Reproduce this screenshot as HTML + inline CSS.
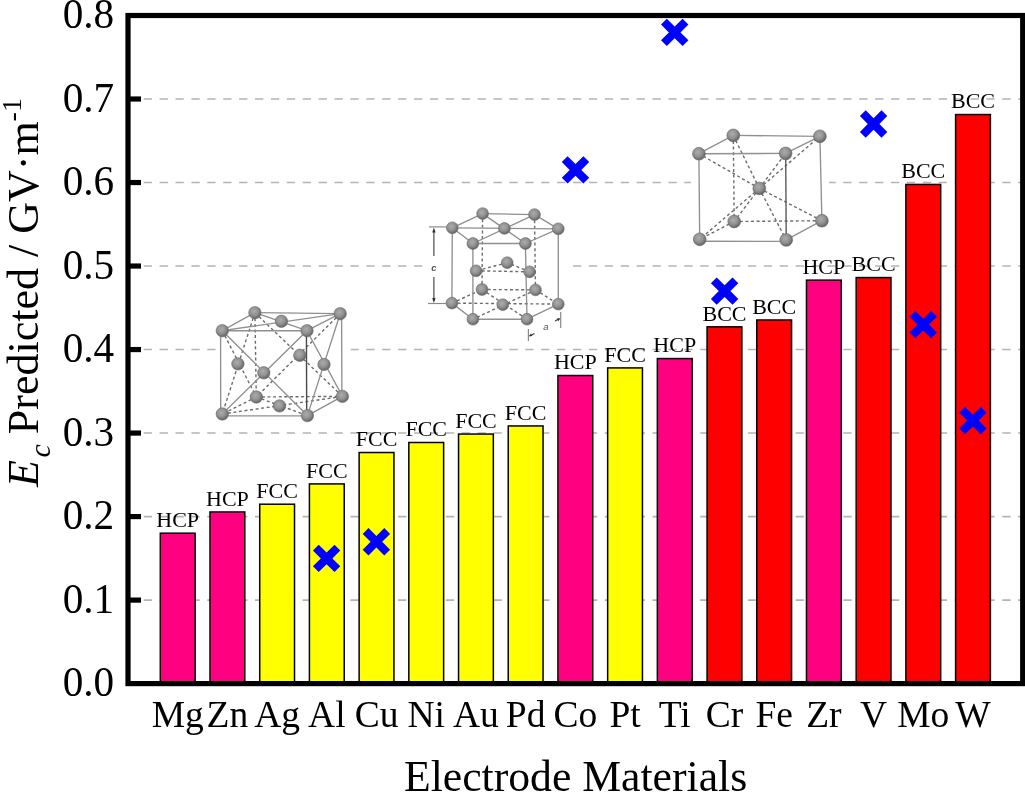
<!DOCTYPE html>
<html lang="en"><head><meta charset="utf-8"><title>Ec Predicted vs Electrode Materials</title>
<style>
html,body{margin:0;padding:0;background:#fff;}
body{width:1025px;height:792px;overflow:hidden;}
svg{display:block;}
text{font-family:"Liberation Serif","Times New Roman",Times,serif;fill:#000;}
.g{stroke:#b4b4b4;stroke-width:1.6;stroke-dasharray:8.3 7.6;fill:none;}
.b{stroke:#000;stroke-width:1.50;}
.l{font-size:22.0px;text-anchor:middle;}
.yt{font-size:41.2px;text-anchor:end;}
.xt{font-size:37.5px;text-anchor:middle;}
.s{stroke:#909090;stroke-width:1.35;fill:none;stroke-linecap:round;}
.d{stroke:#6c6c6c;stroke-width:1.4;fill:none;stroke-dasharray:3 2.6;}
.m{fill:#0000ff;}
</style></head><body>
<svg width="1025" height="792" viewBox="0 0 1025 792">
<defs>
<radialGradient id="ball" cx="0.42" cy="0.38" r="0.62"><stop offset="0" stop-color="#acacac"/><stop offset="0.55" stop-color="#929292"/><stop offset="0.9" stop-color="#6e6e6e"/><stop offset="1" stop-color="#626262"/></radialGradient>
<polygon id="x" class="m" points="-7.90,-13.70 0.00,-5.80 7.90,-13.70 13.70,-7.90 5.80,0.00 13.70,7.90 7.90,13.70 0.00,5.80 -7.90,13.70 -13.70,7.90 -5.80,0.00 -13.70,-7.90"/>
<filter id="soft" x="-5%" y="-5%" width="110%" height="110%"><feGaussianBlur stdDeviation="0.5"/></filter>
</defs>
<rect x="0" y="0" width="1025" height="792" fill="#fff"/>
<g id="grid">
<line class="g" x1="143.7" y1="600.09" x2="1020.7" y2="600.09"/>
<line class="g" x1="143.7" y1="516.58" x2="1020.7" y2="516.58"/>
<line class="g" x1="143.7" y1="433.06" x2="1020.7" y2="433.06"/>
<line class="g" x1="143.7" y1="349.55" x2="1020.7" y2="349.55"/>
<line class="g" x1="143.7" y1="266.04" x2="1020.7" y2="266.04"/>
<line class="g" x1="143.7" y1="182.53" x2="1020.7" y2="182.53"/>
<line class="g" x1="143.7" y1="99.01" x2="1020.7" y2="99.01"/>
</g>
<g id="bars">
<rect class="b" x="160.31" y="533.19" width="34.80" height="150.41" fill="#ff0080"/>
<rect class="b" x="210.01" y="511.98" width="34.80" height="171.62" fill="#ff0080"/>
<rect class="b" x="259.72" y="504.22" width="34.80" height="179.38" fill="#ffff00"/>
<rect class="b" x="309.42" y="483.92" width="34.80" height="199.68" fill="#ffff00"/>
<rect class="b" x="359.13" y="452.52" width="34.80" height="231.08" fill="#ffff00"/>
<rect class="b" x="408.83" y="442.50" width="34.80" height="241.10" fill="#ffff00"/>
<rect class="b" x="458.54" y="434.06" width="34.80" height="249.54" fill="#ffff00"/>
<rect class="b" x="508.24" y="425.96" width="34.80" height="257.64" fill="#ffff00"/>
<rect class="b" x="557.95" y="375.52" width="34.80" height="308.08" fill="#ff0080"/>
<rect class="b" x="607.66" y="367.92" width="34.80" height="315.68" fill="#ffff00"/>
<rect class="b" x="657.36" y="358.57" width="34.80" height="325.03" fill="#ff0080"/>
<rect class="b" x="707.07" y="326.83" width="34.80" height="356.77" fill="#ff0000"/>
<rect class="b" x="756.77" y="319.99" width="34.80" height="363.61" fill="#ff0000"/>
<rect class="b" x="806.48" y="280.15" width="34.80" height="403.45" fill="#ff0080"/>
<rect class="b" x="856.18" y="277.56" width="34.80" height="406.04" fill="#ff0000"/>
<rect class="b" x="905.89" y="184.45" width="34.80" height="499.15" fill="#ff0000"/>
<rect class="b" x="955.59" y="114.55" width="34.80" height="569.05" fill="#ff0000"/>
</g>
<g id="fcc">
<rect x="216" y="300" width="134.5" height="127" fill="#fff"/>
<g filter="url(#soft)">
<line class="d" x1="254.9" y1="312.7" x2="256.3" y2="397.0"/>
<line class="d" x1="256.3" y1="397.0" x2="342.4" y2="396.4"/>
<line class="d" x1="256.3" y1="397.0" x2="222.3" y2="414.0"/>
<line class="d" x1="222.3" y1="330.7" x2="256.3" y2="397.0"/>
<line class="d" x1="254.9" y1="312.7" x2="222.3" y2="414.0"/>
<line class="d" x1="254.9" y1="312.7" x2="342.4" y2="396.4"/>
<line class="d" x1="340.2" y1="313.7" x2="256.3" y2="397.0"/>
<line class="d" x1="222.3" y1="414.0" x2="342.4" y2="396.4"/>
<line class="d" x1="256.3" y1="397.0" x2="307.4" y2="415.6"/>
<line class="s" x1="222.3" y1="330.7" x2="307.0" y2="330.7"/>
<line class="s" x1="222.3" y1="330.7" x2="254.9" y2="312.7"/>
<line class="s" x1="254.9" y1="312.7" x2="340.2" y2="313.7"/>
<line class="s" x1="340.2" y1="313.7" x2="307.0" y2="330.7"/>
<line class="s" x1="342.4" y1="396.4" x2="307.4" y2="415.6"/>
<line class="s" x1="222.3" y1="330.7" x2="307.4" y2="415.6"/>
<line class="s" x1="307.0" y1="330.7" x2="222.3" y2="414.0"/>
<line class="s" x1="222.3" y1="330.7" x2="340.2" y2="313.7"/>
<line class="s" x1="254.9" y1="312.7" x2="307.0" y2="330.7"/>
<line class="s" x1="307.0" y1="330.7" x2="342.4" y2="396.4"/>
<line class="s" x1="340.2" y1="313.7" x2="307.4" y2="415.6"/>
<line class="s" x1="220.6" y1="332.0" x2="220.7" y2="413.0"/>
<line class="s" x1="222.0" y1="415.8" x2="307.0" y2="415.9"/>
<line class="s" x1="341.6" y1="316.0" x2="341.9" y2="395.0"/>
<line x1="306.4" y1="332" x2="306.7" y2="414" stroke="#484848" stroke-width="1.4" fill="none"/>
<circle cx="254.9" cy="312.7" r="6.2" fill="url(#ball)" stroke="#6a6a6a" stroke-width="0.6"/>
<circle cx="340.2" cy="313.7" r="6.2" fill="url(#ball)" stroke="#6a6a6a" stroke-width="0.6"/>
<circle cx="281.4" cy="321.3" r="6.2" fill="url(#ball)" stroke="#6a6a6a" stroke-width="0.6"/>
<circle cx="299.8" cy="355.3" r="6.2" fill="url(#ball)" stroke="#6a6a6a" stroke-width="0.6"/>
<circle cx="237.9" cy="363.9" r="6.2" fill="url(#ball)" stroke="#6a6a6a" stroke-width="0.6"/>
<circle cx="256.3" cy="397.0" r="6.2" fill="url(#ball)" stroke="#6a6a6a" stroke-width="0.6"/>
<circle cx="342.4" cy="396.4" r="6.2" fill="url(#ball)" stroke="#6a6a6a" stroke-width="0.6"/>
<circle cx="279.5" cy="405.9" r="6.2" fill="url(#ball)" stroke="#6a6a6a" stroke-width="0.6"/>
<circle cx="324.0" cy="364.4" r="6.2" fill="url(#ball)" stroke="#6a6a6a" stroke-width="0.6"/>
<circle cx="263.8" cy="372.8" r="6.2" fill="url(#ball)" stroke="#6a6a6a" stroke-width="0.6"/>
<circle cx="222.3" cy="330.7" r="6.2" fill="url(#ball)" stroke="#6a6a6a" stroke-width="0.6"/>
<circle cx="307.0" cy="330.7" r="6.2" fill="url(#ball)" stroke="#6a6a6a" stroke-width="0.6"/>
<circle cx="222.3" cy="414.0" r="6.2" fill="url(#ball)" stroke="#6a6a6a" stroke-width="0.6"/>
<circle cx="307.4" cy="415.6" r="6.2" fill="url(#ball)" stroke="#6a6a6a" stroke-width="0.6"/>
</g></g>
<g id="hcp">
<rect x="424" y="200" width="148.5" height="143" fill="#fff"/>
<g filter="url(#soft)">
<line class="d" x1="482.6" y1="213.6" x2="482.0" y2="289.5"/>
<line class="d" x1="534.5" y1="214.6" x2="535.5" y2="289.9"/>
<line class="d" x1="451.9" y1="303.1" x2="482.0" y2="289.5"/>
<line class="d" x1="482.0" y1="289.5" x2="535.5" y2="289.9"/>
<line class="d" x1="535.5" y1="289.9" x2="558.3" y2="304.1"/>
<line class="d" x1="451.9" y1="303.1" x2="558.3" y2="304.1"/>
<line class="d" x1="482.0" y1="289.5" x2="527.0" y2="319.2"/>
<line class="d" x1="535.5" y1="289.9" x2="472.9" y2="319.2"/>
<line class="d" x1="507.2" y1="262.7" x2="476.1" y2="270.8"/>
<line class="d" x1="476.1" y1="270.8" x2="529.6" y2="271.8"/>
<line class="d" x1="529.6" y1="271.8" x2="507.2" y2="262.7"/>
<line class="s" x1="452.3" y1="227.8" x2="482.6" y2="213.6"/>
<line class="s" x1="482.6" y1="213.6" x2="534.5" y2="214.6"/>
<line class="s" x1="534.5" y1="214.6" x2="558.3" y2="228.8"/>
<line class="s" x1="558.3" y1="228.8" x2="525.4" y2="243.5"/>
<line class="s" x1="525.4" y1="243.5" x2="472.9" y2="243.5"/>
<line class="s" x1="472.9" y1="243.5" x2="452.3" y2="227.8"/>
<line class="s" x1="452.3" y1="227.8" x2="558.3" y2="228.8"/>
<line class="s" x1="482.6" y1="213.6" x2="525.4" y2="243.5"/>
<line class="s" x1="534.5" y1="214.6" x2="472.9" y2="243.5"/>
<line class="s" x1="452.3" y1="227.8" x2="451.9" y2="303.1"/>
<line class="s" x1="472.9" y1="243.5" x2="472.9" y2="319.2"/>
<line class="s" x1="525.4" y1="243.5" x2="527.0" y2="319.2"/>
<line class="s" x1="558.3" y1="228.8" x2="558.3" y2="304.1"/>
<line class="s" x1="451.9" y1="303.1" x2="472.9" y2="319.2"/>
<line class="s" x1="472.9" y1="319.2" x2="527.0" y2="319.2"/>
<line class="s" x1="527.0" y1="319.2" x2="558.3" y2="304.1"/>
<circle cx="482.6" cy="213.6" r="5.9" fill="url(#ball)" stroke="#6a6a6a" stroke-width="0.6"/>
<circle cx="534.5" cy="214.6" r="5.9" fill="url(#ball)" stroke="#6a6a6a" stroke-width="0.6"/>
<circle cx="504.4" cy="228.4" r="5.9" fill="url(#ball)" stroke="#6a6a6a" stroke-width="0.6"/>
<circle cx="452.3" cy="227.8" r="5.9" fill="url(#ball)" stroke="#6a6a6a" stroke-width="0.6"/>
<circle cx="558.3" cy="228.8" r="5.9" fill="url(#ball)" stroke="#6a6a6a" stroke-width="0.6"/>
<circle cx="482.0" cy="289.5" r="5.9" fill="url(#ball)" stroke="#6a6a6a" stroke-width="0.6"/>
<circle cx="535.5" cy="289.9" r="5.9" fill="url(#ball)" stroke="#6a6a6a" stroke-width="0.6"/>
<circle cx="507.2" cy="262.7" r="5.9" fill="url(#ball)" stroke="#6a6a6a" stroke-width="0.6"/>
<circle cx="476.1" cy="270.8" r="5.9" fill="url(#ball)" stroke="#6a6a6a" stroke-width="0.6"/>
<circle cx="529.6" cy="271.8" r="5.9" fill="url(#ball)" stroke="#6a6a6a" stroke-width="0.6"/>
<circle cx="502.8" cy="304.7" r="5.9" fill="url(#ball)" stroke="#6a6a6a" stroke-width="0.6"/>
<circle cx="451.9" cy="303.1" r="5.9" fill="url(#ball)" stroke="#6a6a6a" stroke-width="0.6"/>
<circle cx="558.3" cy="304.1" r="5.9" fill="url(#ball)" stroke="#6a6a6a" stroke-width="0.6"/>
<circle cx="472.9" cy="243.5" r="5.9" fill="url(#ball)" stroke="#6a6a6a" stroke-width="0.6"/>
<circle cx="525.4" cy="243.5" r="5.9" fill="url(#ball)" stroke="#6a6a6a" stroke-width="0.6"/>
<circle cx="472.9" cy="319.2" r="5.9" fill="url(#ball)" stroke="#6a6a6a" stroke-width="0.6"/>
<circle cx="527.0" cy="319.2" r="5.9" fill="url(#ball)" stroke="#6a6a6a" stroke-width="0.6"/>
<g stroke="#8a8a8a" stroke-width="1.2" fill="none">
<line x1="429" y1="226.9" x2="447" y2="226.9"/><line x1="428" y1="303.5" x2="446" y2="303.5"/>
<line x1="528.4" y1="329" x2="528.4" y2="341"/><line x1="560.7" y1="312" x2="560.7" y2="328"/>
</g>
<g stroke="#3c3c3c" stroke-width="1.1" fill="none">
<line x1="433.9" y1="230" x2="433.9" y2="256"/><line x1="433.9" y1="277" x2="433.9" y2="301"/>
<line x1="529.5" y1="336" x2="534.5" y2="333.6"/><line x1="559.6" y1="318.6" x2="555" y2="321"/>
</g>
<path d="M433.9 227.6l-1.7 5h3.4z M433.9 303l-1.7-5h3.4z M529 336.2l3.4-0.2l-1.4-2.6z M560.2 318.4l-3.4 0.2l1.4 2.6z" fill="#333"/>
<text x="433.9" y="271.4" style="font-family:'Liberation Sans',Arial,sans-serif;font-size:9.5px;font-style:italic;font-weight:bold;fill:#555;text-anchor:middle">c</text>
<text x="545.8" y="330.2" style="font-family:'Liberation Sans',Arial,sans-serif;font-size:9.5px;font-style:italic;fill:#555;text-anchor:middle">a</text>
</g></g>
<g id="bcc">
<rect x="691" y="122" width="138" height="127" fill="#fff"/>
<g filter="url(#soft)">
<line class="d" x1="733.3" y1="135.4" x2="734.2" y2="221.5"/>
<line class="d" x1="734.2" y1="221.5" x2="821.9" y2="220.7"/>
<line class="d" x1="734.2" y1="221.5" x2="699.7" y2="239.3"/>
<line class="d" x1="759.3" y1="188.4" x2="698.9" y2="153.7"/>
<line class="d" x1="759.3" y1="188.4" x2="733.3" y2="135.4"/>
<line class="d" x1="759.3" y1="188.4" x2="785.6" y2="153.4"/>
<line class="d" x1="759.3" y1="188.4" x2="819.9" y2="136.3"/>
<line class="d" x1="759.3" y1="188.4" x2="734.2" y2="221.5"/>
<line class="d" x1="759.3" y1="188.4" x2="699.7" y2="239.3"/>
<line class="d" x1="759.3" y1="188.4" x2="786.2" y2="239.9"/>
<line class="d" x1="759.3" y1="188.4" x2="821.9" y2="220.7"/>
<line class="s" x1="698.9" y1="153.7" x2="785.6" y2="153.4"/>
<line class="s" x1="699.7" y1="239.3" x2="698.9" y2="153.7"/>
<line class="s" x1="698.9" y1="153.7" x2="733.3" y2="135.4"/>
<line class="s" x1="733.3" y1="135.4" x2="819.9" y2="136.3"/>
<line class="s" x1="819.9" y1="136.3" x2="785.6" y2="153.4"/>
<line class="s" x1="819.9" y1="136.3" x2="821.9" y2="220.7"/>
<line class="s" x1="821.9" y1="220.7" x2="786.2" y2="239.9"/>
<line class="s" x1="700.0" y1="241.2" x2="786.0" y2="241.4"/>
<line x1="785.7" y1="155" x2="786.2" y2="238" stroke="#5a5a5a" stroke-width="1.4" fill="none"/>
<circle cx="733.3" cy="135.4" r="6.4" fill="url(#ball)" stroke="#6a6a6a" stroke-width="0.6"/>
<circle cx="819.9" cy="136.3" r="6.4" fill="url(#ball)" stroke="#6a6a6a" stroke-width="0.6"/>
<circle cx="734.2" cy="221.5" r="6.4" fill="url(#ball)" stroke="#6a6a6a" stroke-width="0.6"/>
<circle cx="821.9" cy="220.7" r="6.4" fill="url(#ball)" stroke="#6a6a6a" stroke-width="0.6"/>
<circle cx="759.3" cy="188.4" r="6.4" fill="url(#ball)" stroke="#6a6a6a" stroke-width="0.6"/>
<circle cx="698.9" cy="153.7" r="6.4" fill="url(#ball)" stroke="#6a6a6a" stroke-width="0.6"/>
<circle cx="785.6" cy="153.4" r="6.4" fill="url(#ball)" stroke="#6a6a6a" stroke-width="0.6"/>
<circle cx="699.7" cy="239.3" r="6.4" fill="url(#ball)" stroke="#6a6a6a" stroke-width="0.6"/>
<circle cx="786.2" cy="239.9" r="6.4" fill="url(#ball)" stroke="#6a6a6a" stroke-width="0.6"/>
</g></g>
<g id="markers">
<use href="#x" x="326.60" y="558.40"/>
<use href="#x" x="376.40" y="541.80"/>
<use href="#x" x="575.50" y="169.90"/>
<use href="#x" x="674.70" y="32.40"/>
<use href="#x" x="724.60" y="291.10"/>
<use href="#x" x="873.60" y="124.00"/>
<use href="#x" x="923.25" y="324.60"/>
<use href="#x" x="972.90" y="420.60"/>
</g>
<g id="labels">
<text class="l" x="177.71" y="527.04">HCP</text>
<text class="l" x="227.41" y="505.83">HCP</text>
<text class="l" x="277.12" y="498.07">FCC</text>
<text class="l" x="326.82" y="477.77">FCC</text>
<text class="l" x="376.53" y="446.37">FCC</text>
<text class="l" x="426.23" y="436.35">FCC</text>
<text class="l" x="475.94" y="427.91">FCC</text>
<text class="l" x="525.64" y="419.81">FCC</text>
<text class="l" x="575.35" y="369.37">HCP</text>
<text class="l" x="625.06" y="361.77">FCC</text>
<text class="l" x="674.76" y="352.42">HCP</text>
<text class="l" x="724.47" y="320.68">BCC</text>
<text class="l" x="774.17" y="313.84">BCC</text>
<text class="l" x="823.88" y="274.00">HCP</text>
<text class="l" x="873.58" y="271.41">BCC</text>
<text class="l" x="923.29" y="178.30">BCC</text>
<text class="l" x="972.99" y="108.40">BCC</text>
</g>
<g id="axes" stroke="#000" fill="none">
<rect x="128.00" y="15.50" width="894.70" height="668.10" stroke-width="5.20"/>
<line x1="128.00" y1="600.09" x2="141" y2="600.09" stroke-width="5.2"/>
<line x1="128.00" y1="516.58" x2="141" y2="516.58" stroke-width="5.2"/>
<line x1="128.00" y1="433.06" x2="141" y2="433.06" stroke-width="5.2"/>
<line x1="128.00" y1="349.55" x2="141" y2="349.55" stroke-width="5.2"/>
<line x1="128.00" y1="266.04" x2="141" y2="266.04" stroke-width="5.2"/>
<line x1="128.00" y1="182.53" x2="141" y2="182.53" stroke-width="5.2"/>
<line x1="128.00" y1="99.01" x2="141" y2="99.01" stroke-width="5.2"/>
</g>
<g id="yticks">
<text class="yt" x="114.2" y="696.20">0.0</text>
<text class="yt" x="114.2" y="612.69">0.1</text>
<text class="yt" x="114.2" y="529.18">0.2</text>
<text class="yt" x="114.2" y="445.66">0.3</text>
<text class="yt" x="114.2" y="362.15">0.4</text>
<text class="yt" x="114.2" y="278.64">0.5</text>
<text class="yt" x="114.2" y="195.13">0.6</text>
<text class="yt" x="114.2" y="111.61">0.7</text>
<text class="yt" x="114.2" y="28.10">0.8</text>
</g>
<g id="xticks">
<text class="xt" x="177.71" y="726.5">Mg</text>
<text class="xt" x="227.41" y="726.5">Zn</text>
<text class="xt" x="277.12" y="726.5">Ag</text>
<text class="xt" x="326.82" y="726.5">Al</text>
<text class="xt" x="376.53" y="726.5">Cu</text>
<text class="xt" x="426.23" y="726.5">Ni</text>
<text class="xt" x="475.94" y="726.5">Au</text>
<text class="xt" x="525.64" y="726.5">Pd</text>
<text class="xt" x="575.35" y="726.5">Co</text>
<text class="xt" x="625.06" y="726.5">Pt</text>
<text class="xt" x="674.76" y="726.5">Ti</text>
<text class="xt" x="724.47" y="726.5">Cr</text>
<text class="xt" x="774.17" y="726.5">Fe</text>
<text class="xt" x="823.88" y="726.5">Zr</text>
<text class="xt" x="873.58" y="726.5">V</text>
<text class="xt" x="923.29" y="726.5">Mo</text>
<text class="xt" x="972.99" y="726.5">W</text>
</g>
<text x="575.6" y="790.8" style="font-size:43.7px;text-anchor:middle">Electrode Materials</text>
<text transform="translate(38.4 487) rotate(-90)" style="font-size:44.0px"><tspan x="0" y="0" font-style="italic">E</tspan><tspan x="29.4" y="11.9" font-style="italic" font-size="30px">c</tspan><tspan x="52.8" y="0">Predicted / GV·m</tspan><tspan dy="-17.6" font-size="28px">-1</tspan></text>
</svg>
</body></html>
